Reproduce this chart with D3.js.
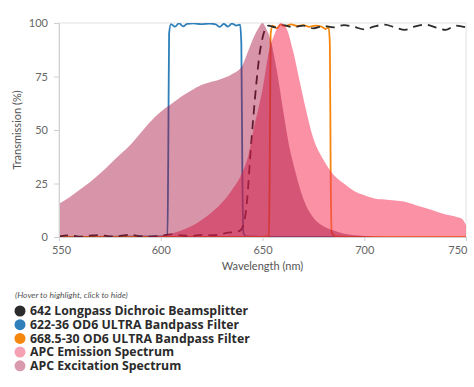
<!DOCTYPE html>
<html lang="en">
  <head>
    <meta charset="UTF-8" />
    <title>Spectra</title>
    <script src="https://d3js.org/d3.v7.min.js"></script>
    <style>
      body { margin: 0; background: #fff; }
      svg { display: block; }
    </style>
  </head>
  <body>
    <svg width="474" height="387"></svg>
    <script>
      // APC excitation [wavelength, %]
      let excitation = [
        [550, 15.5], [555, 18.5], [560, 22], [565, 25.5], [570, 29.5], [575, 34],
        [580, 38.5], [585, 43], [590, 48.5], [595, 54], [600, 58.5], [605, 62],
        [610, 65.5], [615, 68.5], [620, 71], [625, 72.5], [630, 74], [635, 76],
        [640, 80], [643, 87], [646, 94], [648, 97.5], [650, 100], [652, 97],
        [654, 92], [657, 78], [660, 60], [663, 43], [666, 31], [670, 18],
        [675, 9], [680, 5], [685, 3], [690, 1.5], [700, 0.5], [710, 0], [750, 0]
      ];

      // APC emission [wavelength, %]
      let emission = [
        [550, 0], [590, 0], [600, 0.5], [605, 1.5], [610, 3], [615, 5], [620, 8],
        [625, 11.5], [630, 16], [635, 22], [640, 30], [643, 38], [646, 52],
        [648, 60], [650, 69], [653, 86], [656, 95], [659, 100], [662, 97],
        [665, 87], [668, 74], [671, 61], [675, 46], [680, 36], [685, 29],
        [690, 25], [695, 21.5], [700, 19.5], [705, 18], [710, 17.5], [715, 17],
        [720, 16.5], [725, 15], [730, 13.5], [735, 12], [740, 10.5], [745, 9.5],
        [748, 8.5], [750, 5.5]
      ];

      // 622-36 OD6 ULTRA bandpass
      let bp622 = [
        [550, 0], [600, 0.3], [603.3, 0.5], [603.7, 40], [604.1, 95], [605, 99.5],
        [607, 98.3], [609, 99.8], [611, 98.4], [613, 99.6], [616, 99.8], [620, 99.5],
        [624, 99.7], [627, 99.4], [629, 98.2], [631, 99.6], [633, 98.3], [635, 99.7],
        [637, 98.8], [639, 99.2], [639.6, 90], [640.1, 30], [640.6, 2], [642, 0.3],
        [660, 0], [750, 0]
      ];

      // 668.5-30 OD6 ULTRA bandpass
      let bp668 = [
        [550, 0], [650, 0], [653.2, 0.5], [653.6, 40], [654, 95], [655, 98.8],
        [657, 97.5], [659, 99.2], [661, 98.5], [664, 99.4], [667, 98.6], [670, 99],
        [673, 98.2], [676, 98.8], [679, 98.3], [681, 97.2], [682.5, 98], [683.1, 90],
        [683.5, 30], [684, 2], [686, 0.3], [700, 0], [750, 0]
      ];

      // 642 longpass dichroic
      let lp642 = [
        [550, 0.3], [555, 0.8], [560, 0.2], [565, 0.6], [570, 0.9], [575, 0.3],
        [580, 0.5], [585, 1], [590, 0.4], [595, 0.2], [600, 0.6], [605, 1.2],
        [610, 0.8], [615, 0.5], [620, 1], [625, 0.8], [630, 1.4], [633, 2],
        [636, 2.3], [639, 3], [641, 7], [642.5, 18], [644, 38], [645.5, 56],
        [647, 72], [648.5, 85], [650, 93], [651.5, 97.5], [653, 98.8], [656, 98],
        [660, 99], [665, 98], [670, 98.8], [675, 97.5], [680, 98.6], [685, 98],
        [690, 99], [695, 98.2], [700, 97], [705, 98.4], [710, 99.2], [715, 98],
        [720, 96.8], [725, 98.4], [730, 99.3], [735, 98], [740, 96.8], [745, 98.8],
        [750, 98]
      ];

      let xTicks = [550, 600, 650, 700, 750];
      let yTicks = [0, 25, 50, 75, 100];

      let legendNames = [
        "642 Longpass Dichroic Beamsplitter",
        "622-36 OD6 ULTRA Bandpass Filter",
        "668.5-30 OD6 ULTRA Bandpass Filter",
        "APC Emission Spectrum",
        "APC Excitation Spectrum"
      ];
      let legendColors = ["#2b2b2b", "#2f80ba", "#f5870f", "#f6a0b4", "#d99aae"];

      let margin = { top: 23, right: 8, bottom: 150, left: 59 },
        width = 474 - margin.left - margin.right,
        height = 387 - margin.top - margin.bottom;

      let svg = d3.select("svg");
      let chart = svg
        .append("g")
        .attr("transform", "translate(" + margin.left + "," + margin.top + ")");

      let xScale = d3.scaleLinear().domain([550, 750]).range([0, width]);
      let yScale = d3.scaleLinear().domain([0, 100]).range([height, 0]);

      svg.append("defs").append("clipPath").attr("id", "clip")
        .append("rect").attr("width", width).attr("height", height + 1);

      // frame
      chart.append("rect")
        .attr("width", width).attr("height", height)
        .attr("fill", "none").attr("stroke", "#e2e2e2").attr("stroke-width", 1);

      let plot = chart.append("g").attr("clip-path", "url(#clip)");

      let area = d3.area()
        .x((d) => xScale(d[0]))
        .y0(height)
        .y1((d) => yScale(d[1]))
        .curve(d3.curveMonotoneX);
      let line = d3.line()
        .x((d) => xScale(d[0]))
        .y((d) => yScale(d[1]))
        .curve(d3.curveMonotoneX);

      // filter lines sit under the translucent spectra
      plot.append("path").datum(bp622)
        .attr("d", line)
        .attr("fill", "none").attr("stroke", "#2f80ba").attr("stroke-width", 1.8);
      plot.append("path").datum(bp668)
        .attr("d", line)
        .attr("fill", "none").attr("stroke", "#f5870f").attr("stroke-width", 1.8);
      plot.append("path").datum(lp642)
        .attr("d", line)
        .attr("fill", "none").attr("stroke", "#2b2b2b").attr("stroke-width", 1.8)
        .attr("stroke-dasharray", "9,6");

      plot.append("path").datum(emission)
        .attr("d", area)
        .attr("fill", "rgb(246,55,91)").attr("fill-opacity", 0.55);
      plot.append("path").datum(excitation)
        .attr("d", area)
        .attr("fill", "rgb(164,8,55)").attr("fill-opacity", 0.43);

      // axes
      let yAxis = chart.append("g")
        .call(d3.axisLeft(yScale).tickValues(yTicks).tickSize(5).tickPadding(6));
      let xAxis = chart.append("g")
        .attr("transform", "translate(0," + height + ")")
        .call(d3.axisBottom(xScale).tickValues(xTicks).tickSize(4).tickPadding(5));
      [xAxis, yAxis].forEach((a) => {
        a.select(".domain").attr("stroke", "#d0d0d0");
        a.selectAll(".tick line").attr("stroke", "#d0d0d0");
        a.selectAll("text")
          .attr("fill", "#666")
          .style("font-family", "Lato, 'Open Sans', sans-serif")
          .style("font-size", "11px");
      });
      xAxis.selectAll(".tick text")
        .filter((d) => d === 550).attr("dx", 2);
      xAxis.selectAll(".tick text")
        .filter((d) => d === 750).attr("text-anchor", "end").attr("dx", 1);

      chart.append("text")
        .attr("x", width / 2).attr("y", height + 33)
        .attr("text-anchor", "middle")
        .attr("fill", "#555")
        .style("font-family", "Lato, 'Open Sans', sans-serif")
        .style("font-size", "11px")
        .text("Wavelength (nm)");

      chart.append("text")
        .attr("transform", "translate(-38," + height / 2 + ") rotate(-90)")
        .attr("text-anchor", "middle")
        .attr("fill", "#555")
        .style("font-family", "Lato, 'Open Sans', sans-serif")
        .style("font-size", "11px")
        .text("Transmission (%)");

      // legend
      let legend = svg.append("g").attr("transform", "translate(15,0)");
      legend.append("text")
        .attr("x", 0).attr("y", 298)
        .attr("fill", "#555")
        .style("font-family", "Lato, 'Open Sans', sans-serif")
        .style("font-size", "8.5px")
        .style("font-style", "italic")
        .text("(Hover to highlight, click to hide)");

      let items = legend.selectAll("g.item")
        .data(legendNames)
        .enter()
        .append("g")
        .attr("class", "item")
        .attr("transform", (d, i) => "translate(0," + (311 + i * 13.7) + ")");
      items.append("circle")
        .attr("cx", 5).attr("cy", 0).attr("r", 5.5)
        .attr("fill", (d, i) => legendColors[i]);
      items.append("text")
        .attr("x", 15).attr("y", 4.3)
        .attr("fill", "#2b2b2b")
        .style("font-family", "'Open Sans', sans-serif")
        .style("font-weight", "700")
        .style("font-size", "12.3px")
        .text((d) => d);
    </script>
  </body>
</html>
